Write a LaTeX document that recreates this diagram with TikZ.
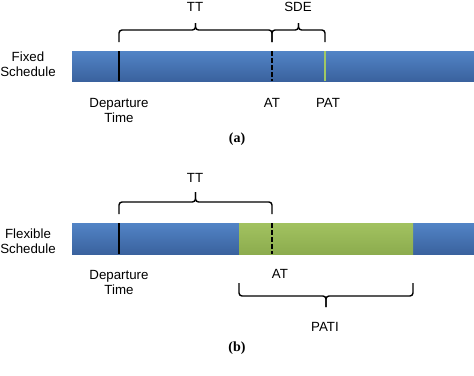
\documentclass[tikz,border=0pt]{standalone}
\usepackage{fontspec}
\setmainfont{Liberation Sans}
\newfontfamily\capfont{Liberation Serif}
\definecolor{barblueT}{RGB}{82,132,198}
\definecolor{barblueB}{RGB}{58,98,158}
\definecolor{bargreenT}{RGB}{162,194,96}
\definecolor{bargreenB}{RGB}{140,172,78}
\definecolor{pgreen}{RGB}{160,200,100}
\newcommand{\mkbrace}[5]{% x1,x2,yend,ybar,ytip
  \draw[bracestyle] (#1,#3) -- (#1,#4) -- ({(#1+#2)/2},#4) -- ({(#1+#2)/2},#5);
  \draw[bracestyle] (#2,#3) -- (#2,#4) -- ({(#1+#2)/2},#4) -- ({(#1+#2)/2},#5);}
\begin{document}
\begin{tikzpicture}[x=1pt,y=-1pt,
  lbl/.style={font=\fontsize{13.3}{15}\selectfont, align=center, inner sep=0pt},
  sub/.style={font=\capfont\bfseries\fontsize{14}{16}\selectfont, inner sep=0pt},
  bluebar/.style={top color=barblueT, bottom color=barblueB, draw=none},
  greenbar/.style={top color=bargreenT, bottom color=bargreenB, draw=none},
  bracestyle/.style={line width=1.4pt, rounded corners=3pt},
  tmark/.style={line width=1.4pt, black},
  dmark/.style={line width=1.6pt, black, dash pattern=on 4.5pt off 2.5pt}]
\useasboundingbox (0,0) rectangle (474,375);
% ---------- (a)
\fill[bluebar] (72,51) rectangle (474,81);
\draw[tmark] (119,51) -- (119,81);
\draw[dmark] (272,51) -- (272,81);
\draw[line width=1.4pt, pgreen] (325,51) -- (325,81);
\mkbrace{119}{272}{42}{30}{23}
\mkbrace{272}{325}{42}{30}{23}
\node[lbl] (tta) at (195,7) {TT};
\node[lbl] (sde) at (298,7) {SDE};
\node[lbl] (fixed) at (28,64) {Fixed\\Schedule};
\node[lbl] (depa) at (119,110) {Departure\\Time};
\node[lbl] (ata) at (272,103) {AT};
\node[lbl] (pat) at (328,103) {PAT};
\node[sub] (a) at (237,139) {(a)};
% ---------- (b)
\fill[bluebar] (72,223) rectangle (474,254);
\fill[greenbar] (239,223) rectangle (413,254);
\draw[tmark] (119,223) -- (119,254);
\draw[dmark] (272,223) -- (272,254);
\mkbrace{119}{272}{214}{202}{192}
\mkbrace{239}{413}{283}{296}{307}
\node[lbl] (ttb) at (195,178) {TT};
\node[lbl] (flex) at (28,241) {Flexible\\Schedule};
\node[lbl] (depb) at (119,282) {Departure\\Time};
\node[lbl] (atb) at (280,274) {AT};
\node[lbl] (pati) at (325,327) {PATI};
\node[sub] (b) at (237,348) {(b)};
\end{tikzpicture}
\end{document}
